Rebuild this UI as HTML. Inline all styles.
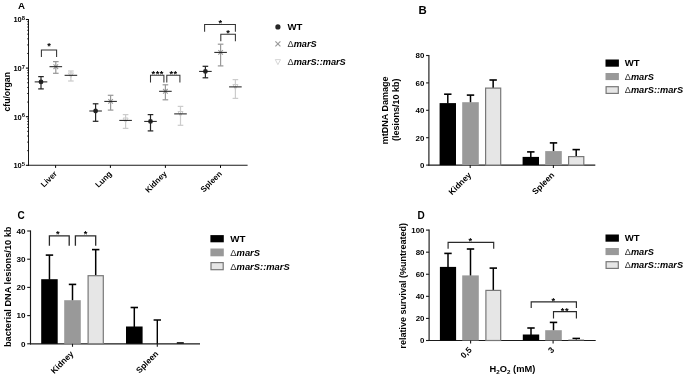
<!DOCTYPE html>
<html><head><meta charset="utf-8"><title>Figure</title>
<style>
html,body{margin:0;padding:0;background:#fff;}
svg{display:block;font-family:"Liberation Sans", sans-serif;}
</style></head>
<body>
<svg width="685" height="376" viewBox="0 0 685 376">
<rect x="0" y="0" width="685" height="376" fill="#fff"/>
<text x="18.10" y="9.10" font-size="9.7" text-anchor="start" font-weight="bold" font-style="normal" fill="#000">A</text>
<line x1="28.50" y1="19.00" x2="28.50" y2="165.80" stroke="#1a1a1a" stroke-width="1.05"/>
<line x1="28.00" y1="165.30" x2="247.60" y2="165.30" stroke="#1a1a1a" stroke-width="1.05"/>
<line x1="25.90" y1="19.50" x2="28.50" y2="19.50" stroke="#000" stroke-width="1.1"/>
<text x="13.4" y="22.30" font-size="7.5" font-weight="bold">10<tspan font-size="5.8" dy="-2.3">8</tspan></text>
<line x1="27.00" y1="53.47" x2="28.50" y2="53.47" stroke="#000" stroke-width="0.7"/>
<line x1="27.00" y1="44.91" x2="28.50" y2="44.91" stroke="#000" stroke-width="0.7"/>
<line x1="27.00" y1="38.84" x2="28.50" y2="38.84" stroke="#000" stroke-width="0.7"/>
<line x1="27.00" y1="34.13" x2="28.50" y2="34.13" stroke="#000" stroke-width="0.7"/>
<line x1="27.00" y1="30.28" x2="28.50" y2="30.28" stroke="#000" stroke-width="0.7"/>
<line x1="27.00" y1="27.03" x2="28.50" y2="27.03" stroke="#000" stroke-width="0.7"/>
<line x1="27.00" y1="24.21" x2="28.50" y2="24.21" stroke="#000" stroke-width="0.7"/>
<line x1="27.00" y1="21.72" x2="28.50" y2="21.72" stroke="#000" stroke-width="0.7"/>
<line x1="25.90" y1="68.10" x2="28.50" y2="68.10" stroke="#000" stroke-width="1.1"/>
<text x="13.4" y="70.90" font-size="7.5" font-weight="bold">10<tspan font-size="5.8" dy="-2.3">7</tspan></text>
<line x1="27.00" y1="102.07" x2="28.50" y2="102.07" stroke="#000" stroke-width="0.7"/>
<line x1="27.00" y1="93.51" x2="28.50" y2="93.51" stroke="#000" stroke-width="0.7"/>
<line x1="27.00" y1="87.44" x2="28.50" y2="87.44" stroke="#000" stroke-width="0.7"/>
<line x1="27.00" y1="82.73" x2="28.50" y2="82.73" stroke="#000" stroke-width="0.7"/>
<line x1="27.00" y1="78.88" x2="28.50" y2="78.88" stroke="#000" stroke-width="0.7"/>
<line x1="27.00" y1="75.63" x2="28.50" y2="75.63" stroke="#000" stroke-width="0.7"/>
<line x1="27.00" y1="72.81" x2="28.50" y2="72.81" stroke="#000" stroke-width="0.7"/>
<line x1="27.00" y1="70.32" x2="28.50" y2="70.32" stroke="#000" stroke-width="0.7"/>
<line x1="25.90" y1="116.70" x2="28.50" y2="116.70" stroke="#000" stroke-width="1.1"/>
<text x="13.4" y="119.50" font-size="7.5" font-weight="bold">10<tspan font-size="5.8" dy="-2.3">6</tspan></text>
<line x1="27.00" y1="150.67" x2="28.50" y2="150.67" stroke="#000" stroke-width="0.7"/>
<line x1="27.00" y1="142.11" x2="28.50" y2="142.11" stroke="#000" stroke-width="0.7"/>
<line x1="27.00" y1="136.04" x2="28.50" y2="136.04" stroke="#000" stroke-width="0.7"/>
<line x1="27.00" y1="131.33" x2="28.50" y2="131.33" stroke="#000" stroke-width="0.7"/>
<line x1="27.00" y1="127.48" x2="28.50" y2="127.48" stroke="#000" stroke-width="0.7"/>
<line x1="27.00" y1="124.23" x2="28.50" y2="124.23" stroke="#000" stroke-width="0.7"/>
<line x1="27.00" y1="121.41" x2="28.50" y2="121.41" stroke="#000" stroke-width="0.7"/>
<line x1="27.00" y1="118.92" x2="28.50" y2="118.92" stroke="#000" stroke-width="0.7"/>
<line x1="25.90" y1="165.30" x2="28.50" y2="165.30" stroke="#000" stroke-width="1.1"/>
<text x="13.4" y="168.10" font-size="7.5" font-weight="bold">10<tspan font-size="5.8" dy="-2.3">5</tspan></text>
<text x="9.60" y="91.80" font-size="8.7" text-anchor="middle" font-weight="bold" font-style="normal" fill="#000" transform="rotate(-90 9.60 91.80)">cfu/organ</text>
<line x1="55.60" y1="165.30" x2="55.60" y2="167.90" stroke="#000" stroke-width="1.0"/>
<text x="57.50" y="174.30" font-size="8.0" text-anchor="end" font-weight="bold" font-style="normal" fill="#000" transform="rotate(-45 57.50 174.30)">Liver</text>
<line x1="110.40" y1="165.30" x2="110.40" y2="167.90" stroke="#000" stroke-width="1.0"/>
<text x="112.30" y="174.30" font-size="8.0" text-anchor="end" font-weight="bold" font-style="normal" fill="#000" transform="rotate(-45 112.30 174.30)">Lung</text>
<line x1="165.40" y1="165.30" x2="165.40" y2="167.90" stroke="#000" stroke-width="1.0"/>
<text x="167.30" y="174.30" font-size="8.0" text-anchor="end" font-weight="bold" font-style="normal" fill="#000" transform="rotate(-45 167.30 174.30)">Kidney</text>
<line x1="220.50" y1="165.30" x2="220.50" y2="167.90" stroke="#000" stroke-width="1.0"/>
<text x="222.40" y="174.30" font-size="8.0" text-anchor="end" font-weight="bold" font-style="normal" fill="#000" transform="rotate(-45 222.40 174.30)">Spleen</text>
<line x1="41.00" y1="76.60" x2="41.00" y2="88.90" stroke="#262626" stroke-width="1.2"/>
<line x1="38.20" y1="76.60" x2="43.80" y2="76.60" stroke="#262626" stroke-width="1.25"/>
<line x1="38.20" y1="88.90" x2="43.80" y2="88.90" stroke="#262626" stroke-width="1.25"/>
<circle cx="41.00" cy="81.90" r="2.4" fill="#262626"/>
<line x1="34.70" y1="81.90" x2="47.30" y2="81.90" stroke="#1a1a1a" stroke-width="1.0"/>
<line x1="55.80" y1="61.60" x2="55.80" y2="73.30" stroke="#999999" stroke-width="1.2"/>
<line x1="53.00" y1="61.60" x2="58.60" y2="61.60" stroke="#999999" stroke-width="1.25"/>
<line x1="53.00" y1="73.30" x2="58.60" y2="73.30" stroke="#999999" stroke-width="1.25"/>
<line x1="53.50" y1="64.40" x2="58.10" y2="69.00" stroke="#999999" stroke-width="1.1"/>
<line x1="53.50" y1="69.00" x2="58.10" y2="64.40" stroke="#999999" stroke-width="1.1"/>
<line x1="49.50" y1="66.70" x2="62.10" y2="66.70" stroke="#1a1a1a" stroke-width="1.0"/>
<line x1="70.90" y1="71.00" x2="70.90" y2="81.00" stroke="#cccccc" stroke-width="1.2"/>
<line x1="68.10" y1="71.00" x2="73.70" y2="71.00" stroke="#cccccc" stroke-width="1.25"/>
<line x1="68.10" y1="81.00" x2="73.70" y2="81.00" stroke="#cccccc" stroke-width="1.25"/>
<path d="M68.40 72.90 H73.40 L70.90 77.60 Z" fill="none" stroke="#cccccc" stroke-width="1.0"/>
<line x1="64.60" y1="75.30" x2="77.20" y2="75.30" stroke="#1a1a1a" stroke-width="1.0"/>
<line x1="95.60" y1="103.80" x2="95.60" y2="121.30" stroke="#262626" stroke-width="1.2"/>
<line x1="92.80" y1="103.80" x2="98.40" y2="103.80" stroke="#262626" stroke-width="1.25"/>
<line x1="92.80" y1="121.30" x2="98.40" y2="121.30" stroke="#262626" stroke-width="1.25"/>
<circle cx="95.60" cy="111.00" r="2.4" fill="#262626"/>
<line x1="89.30" y1="111.00" x2="101.90" y2="111.00" stroke="#1a1a1a" stroke-width="1.0"/>
<line x1="110.60" y1="95.30" x2="110.60" y2="110.10" stroke="#999999" stroke-width="1.2"/>
<line x1="107.80" y1="95.30" x2="113.40" y2="95.30" stroke="#999999" stroke-width="1.25"/>
<line x1="107.80" y1="110.10" x2="113.40" y2="110.10" stroke="#999999" stroke-width="1.25"/>
<line x1="108.30" y1="99.10" x2="112.90" y2="103.70" stroke="#999999" stroke-width="1.1"/>
<line x1="108.30" y1="103.70" x2="112.90" y2="99.10" stroke="#999999" stroke-width="1.1"/>
<line x1="104.30" y1="101.40" x2="116.90" y2="101.40" stroke="#1a1a1a" stroke-width="1.0"/>
<line x1="125.60" y1="114.60" x2="125.60" y2="128.40" stroke="#cccccc" stroke-width="1.2"/>
<line x1="122.80" y1="114.60" x2="128.40" y2="114.60" stroke="#cccccc" stroke-width="1.25"/>
<line x1="122.80" y1="128.40" x2="128.40" y2="128.40" stroke="#cccccc" stroke-width="1.25"/>
<path d="M123.10 118.00 H128.10 L125.60 122.70 Z" fill="none" stroke="#cccccc" stroke-width="1.0"/>
<line x1="119.30" y1="120.40" x2="131.90" y2="120.40" stroke="#1a1a1a" stroke-width="1.0"/>
<line x1="150.50" y1="114.60" x2="150.50" y2="130.90" stroke="#262626" stroke-width="1.2"/>
<line x1="147.70" y1="114.60" x2="153.30" y2="114.60" stroke="#262626" stroke-width="1.25"/>
<line x1="147.70" y1="130.90" x2="153.30" y2="130.90" stroke="#262626" stroke-width="1.25"/>
<circle cx="150.50" cy="121.40" r="2.4" fill="#262626"/>
<line x1="144.20" y1="121.40" x2="156.80" y2="121.40" stroke="#1a1a1a" stroke-width="1.0"/>
<line x1="165.40" y1="84.80" x2="165.40" y2="99.80" stroke="#999999" stroke-width="1.2"/>
<line x1="162.60" y1="84.80" x2="168.20" y2="84.80" stroke="#999999" stroke-width="1.25"/>
<line x1="162.60" y1="99.80" x2="168.20" y2="99.80" stroke="#999999" stroke-width="1.25"/>
<line x1="163.10" y1="89.00" x2="167.70" y2="93.60" stroke="#999999" stroke-width="1.1"/>
<line x1="163.10" y1="93.60" x2="167.70" y2="89.00" stroke="#999999" stroke-width="1.1"/>
<line x1="159.10" y1="91.30" x2="171.70" y2="91.30" stroke="#1a1a1a" stroke-width="1.0"/>
<line x1="180.50" y1="106.40" x2="180.50" y2="125.30" stroke="#cccccc" stroke-width="1.2"/>
<line x1="177.70" y1="106.40" x2="183.30" y2="106.40" stroke="#cccccc" stroke-width="1.25"/>
<line x1="177.70" y1="125.30" x2="183.30" y2="125.30" stroke="#cccccc" stroke-width="1.25"/>
<path d="M178.00 111.50 H183.00 L180.50 116.20 Z" fill="none" stroke="#cccccc" stroke-width="1.0"/>
<line x1="174.20" y1="113.90" x2="186.80" y2="113.90" stroke="#1a1a1a" stroke-width="1.0"/>
<line x1="205.40" y1="66.30" x2="205.40" y2="77.80" stroke="#262626" stroke-width="1.2"/>
<line x1="202.60" y1="66.30" x2="208.20" y2="66.30" stroke="#262626" stroke-width="1.25"/>
<line x1="202.60" y1="77.80" x2="208.20" y2="77.80" stroke="#262626" stroke-width="1.25"/>
<circle cx="205.40" cy="71.40" r="2.4" fill="#262626"/>
<line x1="199.10" y1="71.40" x2="211.70" y2="71.40" stroke="#1a1a1a" stroke-width="1.0"/>
<line x1="220.60" y1="44.20" x2="220.60" y2="65.90" stroke="#999999" stroke-width="1.2"/>
<line x1="217.80" y1="44.20" x2="223.40" y2="44.20" stroke="#999999" stroke-width="1.25"/>
<line x1="217.80" y1="65.90" x2="223.40" y2="65.90" stroke="#999999" stroke-width="1.25"/>
<line x1="218.30" y1="50.10" x2="222.90" y2="54.70" stroke="#999999" stroke-width="1.1"/>
<line x1="218.30" y1="54.70" x2="222.90" y2="50.10" stroke="#999999" stroke-width="1.1"/>
<line x1="214.30" y1="52.40" x2="226.90" y2="52.40" stroke="#1a1a1a" stroke-width="1.0"/>
<line x1="235.40" y1="79.60" x2="235.40" y2="98.40" stroke="#cccccc" stroke-width="1.2"/>
<line x1="232.60" y1="79.60" x2="238.20" y2="79.60" stroke="#cccccc" stroke-width="1.25"/>
<line x1="232.60" y1="98.40" x2="238.20" y2="98.40" stroke="#cccccc" stroke-width="1.25"/>
<path d="M232.90 84.50 H237.90 L235.40 89.20 Z" fill="none" stroke="#cccccc" stroke-width="1.0"/>
<line x1="229.10" y1="86.90" x2="241.70" y2="86.90" stroke="#1a1a1a" stroke-width="1.0"/>
<path d="M41.40 57.00 V50.00 H56.60 V57.00" fill="none" stroke="#333" stroke-width="1.05"/>
<text x="49.20" y="49.40" font-size="9.3" font-weight="bold" text-anchor="middle" letter-spacing="0.5">*</text>
<path d="M150.50 82.50 V75.20 H163.90 V82.50" fill="none" stroke="#333" stroke-width="1.05"/>
<text x="157.70" y="76.50" font-size="9.3" font-weight="bold" text-anchor="middle" letter-spacing="0.5">***</text>
<path d="M166.80 82.50 V75.20 H179.90 V82.50" fill="none" stroke="#333" stroke-width="1.05"/>
<text x="173.60" y="76.50" font-size="9.3" font-weight="bold" text-anchor="middle" letter-spacing="0.5">**</text>
<path d="M204.60 31.70 V24.40 H235.40 V31.70" fill="none" stroke="#333" stroke-width="1.05"/>
<text x="220.60" y="26.20" font-size="9.3" font-weight="bold" text-anchor="middle" letter-spacing="0.5">*</text>
<path d="M220.80 41.30 V34.30 H235.40 V41.30" fill="none" stroke="#333" stroke-width="1.05"/>
<text x="228.40" y="35.60" font-size="9.3" font-weight="bold" text-anchor="middle" letter-spacing="0.5">*</text>
<circle cx="277.9" cy="26.9" r="2.6" fill="#262626"/>
<line x1="275.40" y1="41.30" x2="280.40" y2="46.30" stroke="#999999" stroke-width="1.1"/>
<line x1="275.40" y1="46.30" x2="280.40" y2="41.30" stroke="#999999" stroke-width="1.1"/>
<path d="M275.3 59.6 H280.5 L277.9 64.6 Z" fill="none" stroke="#cccccc" stroke-width="0.8"/>
<text x="287.50" y="29.90" font-size="9.6" text-anchor="start" font-weight="bold" font-style="normal" fill="#000">WT</text>
<text x="287.50" y="47.10" font-size="9.2" text-anchor="start" font-weight="bold" font-style="italic" fill="#000"><tspan font-weight="normal" font-style="normal" fill="#333">Δ</tspan>marS</text>
<text x="287.50" y="65.40" font-size="9.2" text-anchor="start" font-weight="bold" font-style="italic" fill="#000"><tspan font-weight="normal" font-style="normal" fill="#333">Δ</tspan>marS::marS</text>
<text x="418.50" y="13.80" font-size="11.4" text-anchor="start" font-weight="bold" font-style="normal" fill="#000">B</text>
<line x1="428.90" y1="54.95" x2="428.90" y2="165.65" stroke="#1a1a1a" stroke-width="1.15"/>
<line x1="428.35" y1="165.10" x2="595.30" y2="165.10" stroke="#1a1a1a" stroke-width="1.15"/>
<line x1="426.10" y1="165.10" x2="428.90" y2="165.10" stroke="#1a1a1a" stroke-width="1.1"/>
<text x="424.30" y="167.90" font-size="7.9" text-anchor="end" font-weight="bold" font-style="normal" fill="#000">0</text>
<line x1="426.10" y1="137.70" x2="428.90" y2="137.70" stroke="#1a1a1a" stroke-width="1.1"/>
<text x="424.30" y="140.50" font-size="7.9" text-anchor="end" font-weight="bold" font-style="normal" fill="#000">20</text>
<line x1="426.10" y1="110.30" x2="428.90" y2="110.30" stroke="#1a1a1a" stroke-width="1.1"/>
<text x="424.30" y="113.10" font-size="7.9" text-anchor="end" font-weight="bold" font-style="normal" fill="#000">40</text>
<line x1="426.10" y1="82.90" x2="428.90" y2="82.90" stroke="#1a1a1a" stroke-width="1.1"/>
<text x="424.30" y="85.70" font-size="7.9" text-anchor="end" font-weight="bold" font-style="normal" fill="#000">60</text>
<line x1="426.10" y1="55.50" x2="428.90" y2="55.50" stroke="#1a1a1a" stroke-width="1.1"/>
<text x="424.30" y="58.30" font-size="7.9" text-anchor="end" font-weight="bold" font-style="normal" fill="#000">80</text>
<text x="388.20" y="110.40" font-size="9" text-anchor="middle" font-weight="bold" font-style="normal" fill="#000" transform="rotate(-90 388.20 110.40)">mtDNA Damage</text>
<text x="399.00" y="109.80" font-size="9" text-anchor="middle" font-weight="bold" font-style="normal" fill="#000" transform="rotate(-90 399.00 109.80)">(lesions/10 kb)</text>
<line x1="447.80" y1="94.20" x2="447.80" y2="103.60" stroke="#000" stroke-width="1.5"/>
<line x1="444.10" y1="94.20" x2="451.50" y2="94.20" stroke="#000" stroke-width="1.6"/>
<rect x="439.60" y="103.10" width="16.40" height="62.00" fill="#000"/>
<line x1="470.50" y1="95.10" x2="470.50" y2="102.70" stroke="#000" stroke-width="1.5"/>
<line x1="466.80" y1="95.10" x2="474.20" y2="95.10" stroke="#000" stroke-width="1.6"/>
<rect x="462.20" y="102.20" width="16.60" height="62.90" fill="#999999"/>
<line x1="493.15" y1="80.00" x2="493.15" y2="88.00" stroke="#000" stroke-width="1.5"/>
<line x1="489.45" y1="80.00" x2="496.85" y2="80.00" stroke="#000" stroke-width="1.6"/>
<rect x="485.60" y="88.10" width="15.10" height="77.00" fill="#e6e6e6" stroke="#787878" stroke-width="1.2"/>
<line x1="530.80" y1="151.90" x2="530.80" y2="157.40" stroke="#000" stroke-width="1.5"/>
<line x1="527.10" y1="151.90" x2="534.50" y2="151.90" stroke="#000" stroke-width="1.6"/>
<rect x="522.60" y="156.90" width="16.40" height="8.20" fill="#000"/>
<line x1="553.50" y1="142.90" x2="553.50" y2="151.60" stroke="#000" stroke-width="1.5"/>
<line x1="549.80" y1="142.90" x2="557.20" y2="142.90" stroke="#000" stroke-width="1.6"/>
<rect x="545.20" y="151.10" width="16.60" height="14.00" fill="#999999"/>
<line x1="576.20" y1="149.60" x2="576.20" y2="156.50" stroke="#000" stroke-width="1.5"/>
<line x1="572.50" y1="149.60" x2="579.90" y2="149.60" stroke="#000" stroke-width="1.6"/>
<rect x="568.60" y="156.60" width="15.20" height="8.50" fill="#e6e6e6" stroke="#787878" stroke-width="1.2"/>
<line x1="470.20" y1="165.10" x2="470.20" y2="168.10" stroke="#1a1a1a" stroke-width="1.1"/>
<text x="471.80" y="175.70" font-size="8.4" text-anchor="end" font-weight="bold" font-style="normal" fill="#000" transform="rotate(-45 471.80 175.70)">Kidney</text>
<line x1="553.40" y1="165.10" x2="553.40" y2="168.10" stroke="#1a1a1a" stroke-width="1.1"/>
<text x="555.00" y="175.70" font-size="8.4" text-anchor="end" font-weight="bold" font-style="normal" fill="#000" transform="rotate(-45 555.00 175.70)">Spleen</text>
<rect x="605.50" y="59.50" width="13.40" height="7.20" fill="#000"/>
<rect x="605.50" y="73.00" width="13.40" height="7.10" fill="#999999"/>
<rect x="606.10" y="86.70" width="12.20" height="6.70" fill="#e6e6e6" stroke="#787878" stroke-width="1.2"/>
<text x="624.80" y="65.80" font-size="9.6" text-anchor="start" font-weight="bold" font-style="normal" fill="#000">WT</text>
<text x="624.80" y="79.70" font-size="9.2" text-anchor="start" font-weight="bold" font-style="italic" fill="#000"><tspan font-weight="normal" font-style="normal" fill="#333">Δ</tspan>marS</text>
<text x="624.80" y="93.40" font-size="9.2" text-anchor="start" font-weight="bold" font-style="italic" fill="#000"><tspan font-weight="normal" font-style="normal" fill="#333">Δ</tspan>marS::marS</text>
<text x="17.50" y="218.70" font-size="10" text-anchor="start" font-weight="bold" font-style="normal" fill="#000">C</text>
<line x1="30.50" y1="230.45" x2="30.50" y2="344.35" stroke="#1a1a1a" stroke-width="1.15"/>
<line x1="29.95" y1="343.80" x2="200.00" y2="343.80" stroke="#1a1a1a" stroke-width="1.15"/>
<line x1="27.20" y1="343.80" x2="30.50" y2="343.80" stroke="#1a1a1a" stroke-width="1.1"/>
<text x="25.50" y="346.65" font-size="8.1" text-anchor="end" font-weight="bold" font-style="normal" fill="#000">0</text>
<line x1="27.20" y1="315.60" x2="30.50" y2="315.60" stroke="#1a1a1a" stroke-width="1.1"/>
<text x="25.50" y="318.45" font-size="8.1" text-anchor="end" font-weight="bold" font-style="normal" fill="#000">10</text>
<line x1="27.20" y1="287.40" x2="30.50" y2="287.40" stroke="#1a1a1a" stroke-width="1.1"/>
<text x="25.50" y="290.25" font-size="8.1" text-anchor="end" font-weight="bold" font-style="normal" fill="#000">20</text>
<line x1="27.20" y1="259.20" x2="30.50" y2="259.20" stroke="#1a1a1a" stroke-width="1.1"/>
<text x="25.50" y="262.05" font-size="8.1" text-anchor="end" font-weight="bold" font-style="normal" fill="#000">30</text>
<line x1="27.20" y1="231.00" x2="30.50" y2="231.00" stroke="#1a1a1a" stroke-width="1.1"/>
<text x="25.50" y="233.85" font-size="8.1" text-anchor="end" font-weight="bold" font-style="normal" fill="#000">40</text>
<text x="10.80" y="286.80" font-size="9.23" text-anchor="middle" font-weight="bold" font-style="normal" fill="#000" transform="rotate(-90 10.80 286.80)">bacterial DNA lesions/10 kb</text>
<line x1="49.45" y1="255.10" x2="49.45" y2="279.70" stroke="#000" stroke-width="1.5"/>
<line x1="45.75" y1="255.10" x2="53.15" y2="255.10" stroke="#000" stroke-width="1.6"/>
<rect x="41.20" y="279.20" width="16.50" height="64.60" fill="#000"/>
<line x1="72.50" y1="284.40" x2="72.50" y2="300.70" stroke="#000" stroke-width="1.5"/>
<line x1="68.80" y1="284.40" x2="76.20" y2="284.40" stroke="#000" stroke-width="1.6"/>
<rect x="64.20" y="300.20" width="16.60" height="43.60" fill="#999999"/>
<line x1="95.70" y1="249.60" x2="95.70" y2="275.60" stroke="#000" stroke-width="1.5"/>
<line x1="92.00" y1="249.60" x2="99.40" y2="249.60" stroke="#000" stroke-width="1.6"/>
<rect x="88.10" y="275.70" width="15.20" height="68.10" fill="#e6e6e6" stroke="#787878" stroke-width="1.2"/>
<line x1="134.30" y1="307.50" x2="134.30" y2="327.00" stroke="#000" stroke-width="1.5"/>
<line x1="130.60" y1="307.50" x2="138.00" y2="307.50" stroke="#000" stroke-width="1.6"/>
<rect x="126.00" y="326.50" width="16.60" height="17.30" fill="#000"/>
<line x1="157.30" y1="320.00" x2="157.30" y2="343.80" stroke="#000" stroke-width="1.4"/>
<line x1="153.60" y1="320.00" x2="161.00" y2="320.00" stroke="#000" stroke-width="1.5"/>
<line x1="176.80" y1="342.90" x2="183.80" y2="342.90" stroke="#000" stroke-width="1.4"/>
<line x1="72.50" y1="343.80" x2="72.50" y2="346.80" stroke="#1a1a1a" stroke-width="1.1"/>
<text x="74.10" y="354.40" font-size="8.4" text-anchor="end" font-weight="bold" font-style="normal" fill="#000" transform="rotate(-45 74.10 354.40)">Kidney</text>
<line x1="157.30" y1="343.80" x2="157.30" y2="346.80" stroke="#1a1a1a" stroke-width="1.1"/>
<text x="158.90" y="354.40" font-size="8.4" text-anchor="end" font-weight="bold" font-style="normal" fill="#000" transform="rotate(-45 158.90 354.40)">Spleen</text>
<path d="M49.40 245.70 V235.90 H69.20 V245.70" fill="none" stroke="#2a2a2a" stroke-width="1.3"/>
<text x="58.10" y="237.10" font-size="9.3" font-weight="bold" text-anchor="middle" letter-spacing="0.5">*</text>
<path d="M75.40 245.70 V235.90 H95.70 V245.70" fill="none" stroke="#2a2a2a" stroke-width="1.3"/>
<text x="85.80" y="237.10" font-size="9.3" font-weight="bold" text-anchor="middle" letter-spacing="0.5">*</text>
<rect x="210.40" y="235.10" width="13.40" height="7.20" fill="#000"/>
<rect x="210.40" y="248.50" width="13.40" height="7.80" fill="#999999"/>
<rect x="211.00" y="262.60" width="12.20" height="7.10" fill="#e6e6e6" stroke="#787878" stroke-width="1.2"/>
<text x="230.30" y="241.60" font-size="9.8" text-anchor="start" font-weight="bold" font-style="normal" fill="#000">WT</text>
<text x="230.30" y="255.60" font-size="9.4" text-anchor="start" font-weight="bold" font-style="italic" fill="#000"><tspan font-weight="normal" font-style="normal" fill="#333">Δ</tspan>marS</text>
<text x="230.30" y="269.50" font-size="9.4" text-anchor="start" font-weight="bold" font-style="italic" fill="#000"><tspan font-weight="normal" font-style="normal" fill="#333">Δ</tspan>marS::marS</text>
<text x="417.60" y="218.50" font-size="10" text-anchor="start" font-weight="bold" font-style="normal" fill="#000">D</text>
<line x1="429.10" y1="229.55" x2="429.10" y2="341.05" stroke="#1a1a1a" stroke-width="1.15"/>
<line x1="428.55" y1="340.50" x2="595.70" y2="340.50" stroke="#1a1a1a" stroke-width="1.15"/>
<line x1="426.00" y1="340.50" x2="429.10" y2="340.50" stroke="#1a1a1a" stroke-width="1.1"/>
<text x="424.50" y="343.30" font-size="7.9" text-anchor="end" font-weight="bold" font-style="normal" fill="#000">0</text>
<line x1="426.00" y1="318.42" x2="429.10" y2="318.42" stroke="#1a1a1a" stroke-width="1.1"/>
<text x="424.50" y="321.22" font-size="7.9" text-anchor="end" font-weight="bold" font-style="normal" fill="#000">20</text>
<line x1="426.00" y1="296.34" x2="429.10" y2="296.34" stroke="#1a1a1a" stroke-width="1.1"/>
<text x="424.50" y="299.14" font-size="7.9" text-anchor="end" font-weight="bold" font-style="normal" fill="#000">40</text>
<line x1="426.00" y1="274.26" x2="429.10" y2="274.26" stroke="#1a1a1a" stroke-width="1.1"/>
<text x="424.50" y="277.06" font-size="7.9" text-anchor="end" font-weight="bold" font-style="normal" fill="#000">60</text>
<line x1="426.00" y1="252.18" x2="429.10" y2="252.18" stroke="#1a1a1a" stroke-width="1.1"/>
<text x="424.50" y="254.98" font-size="7.9" text-anchor="end" font-weight="bold" font-style="normal" fill="#000">80</text>
<line x1="426.00" y1="230.10" x2="429.10" y2="230.10" stroke="#1a1a1a" stroke-width="1.1"/>
<text x="424.50" y="232.90" font-size="7.9" text-anchor="end" font-weight="bold" font-style="normal" fill="#000">100</text>
<text x="406.20" y="285.80" font-size="9" text-anchor="middle" font-weight="bold" font-style="normal" fill="#000" transform="rotate(-90 406.20 285.80)">relative survival (%untreated)</text>
<line x1="448.00" y1="253.40" x2="448.00" y2="267.40" stroke="#000" stroke-width="1.5"/>
<line x1="444.30" y1="253.40" x2="451.70" y2="253.40" stroke="#000" stroke-width="1.6"/>
<rect x="439.90" y="266.90" width="16.20" height="73.60" fill="#000"/>
<line x1="470.50" y1="249.00" x2="470.50" y2="275.90" stroke="#000" stroke-width="1.5"/>
<line x1="466.80" y1="249.00" x2="474.20" y2="249.00" stroke="#000" stroke-width="1.6"/>
<rect x="462.20" y="275.40" width="16.60" height="65.10" fill="#999999"/>
<line x1="493.30" y1="268.10" x2="493.30" y2="290.30" stroke="#000" stroke-width="1.5"/>
<line x1="489.60" y1="268.10" x2="497.00" y2="268.10" stroke="#000" stroke-width="1.6"/>
<rect x="485.90" y="290.40" width="14.80" height="50.10" fill="#e6e6e6" stroke="#787878" stroke-width="1.2"/>
<line x1="531.00" y1="328.00" x2="531.00" y2="335.00" stroke="#000" stroke-width="1.5"/>
<line x1="527.30" y1="328.00" x2="534.70" y2="328.00" stroke="#000" stroke-width="1.6"/>
<rect x="522.80" y="334.50" width="16.40" height="6.00" fill="#000"/>
<line x1="553.50" y1="322.40" x2="553.50" y2="330.70" stroke="#000" stroke-width="1.5"/>
<line x1="549.80" y1="322.40" x2="557.20" y2="322.40" stroke="#000" stroke-width="1.6"/>
<rect x="545.20" y="330.20" width="16.60" height="10.30" fill="#999999"/>
<line x1="576.30" y1="338.40" x2="576.30" y2="340.00" stroke="#000" stroke-width="1.4"/>
<line x1="572.50" y1="338.40" x2="580.00" y2="338.40" stroke="#000" stroke-width="1.5"/>
<rect x="568.30" y="339.40" width="15.80" height="1.00" fill="#999"/>
<line x1="470.60" y1="340.50" x2="470.60" y2="343.60" stroke="#1a1a1a" stroke-width="1.1"/>
<text x="472.20" y="350.50" font-size="8.4" text-anchor="end" font-weight="bold" font-style="normal" fill="#000" transform="rotate(-45 472.20 350.50)">0,5</text>
<line x1="553.10" y1="340.50" x2="553.10" y2="343.60" stroke="#1a1a1a" stroke-width="1.1"/>
<text x="554.70" y="350.50" font-size="8.4" text-anchor="end" font-weight="bold" font-style="normal" fill="#000" transform="rotate(-45 554.70 350.50)">3</text>
<path d="M448.10 248.80 V242.40 H493.70 V248.80" fill="none" stroke="#2a2a2a" stroke-width="1.15"/>
<text x="470.60" y="244.20" font-size="9.3" font-weight="bold" text-anchor="middle" letter-spacing="0.5">*</text>
<path d="M531.20 307.90 V301.80 H576.40 V307.90" fill="none" stroke="#2a2a2a" stroke-width="1.15"/>
<text x="553.50" y="303.60" font-size="9.3" font-weight="bold" text-anchor="middle" letter-spacing="0.5">*</text>
<path d="M553.50 318.50 V311.60 H576.40 V318.50" fill="none" stroke="#2a2a2a" stroke-width="1.15"/>
<text x="564.95" y="313.60" font-size="9.3" font-weight="bold" text-anchor="middle" letter-spacing="0.5">**</text>
<text x="489.6" y="372" font-size="9.3" font-weight="bold">H<tspan font-size="6.2" dy="1.8">2</tspan><tspan dy="-1.8">O</tspan><tspan font-size="6.2" dy="1.8">2</tspan><tspan dy="-1.8"> (mM)</tspan></text>
<rect x="605.50" y="234.50" width="13.40" height="7.20" fill="#000"/>
<rect x="605.50" y="248.00" width="13.40" height="7.10" fill="#999999"/>
<rect x="606.10" y="261.70" width="12.20" height="6.70" fill="#e6e6e6" stroke="#787878" stroke-width="1.2"/>
<text x="624.80" y="240.80" font-size="9.6" text-anchor="start" font-weight="bold" font-style="normal" fill="#000">WT</text>
<text x="624.80" y="254.70" font-size="9.2" text-anchor="start" font-weight="bold" font-style="italic" fill="#000"><tspan font-weight="normal" font-style="normal" fill="#333">Δ</tspan>marS</text>
<text x="624.80" y="268.40" font-size="9.2" text-anchor="start" font-weight="bold" font-style="italic" fill="#000"><tspan font-weight="normal" font-style="normal" fill="#333">Δ</tspan>marS::marS</text>
</svg>
</body></html>
